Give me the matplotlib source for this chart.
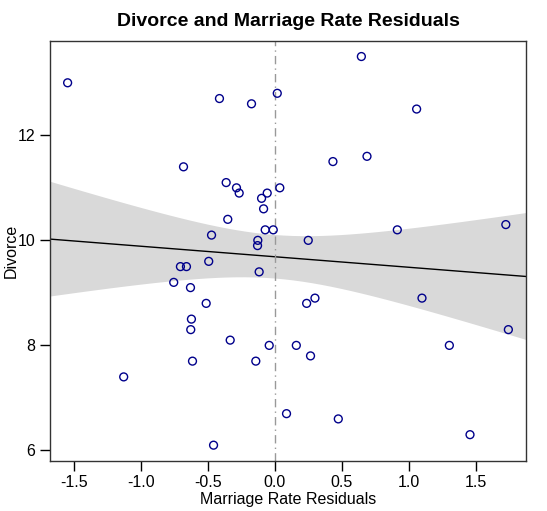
import matplotlib
matplotlib.use('Agg')
import matplotlib.pyplot as plt
import numpy as np

plt.rcParams['font.family'] = ['Liberation Sans', 'DejaVu Sans']
plt.rcParams['axes.unicode_minus'] = False

# marriage rate residuals (x) and divorce rate (y)
marriage_resid = [
    -1.545, -0.413, -0.174, 0.018, -0.681, -0.363, -0.286, -0.266, -0.057, -0.099,
    0.037, -0.084, -0.351, -0.072, -0.012, -0.472, -0.127, -0.129, -0.493, -0.704,
    -0.659, -0.117, -0.754, -0.629, -0.512, -0.622, -0.627, -0.333, -0.042, -0.614,
    -0.142, -1.127, 0.087, -0.457, 0.645, 1.057, 0.433, 0.687, 0.249, 0.913,
    1.722, 0.237, 0.299, 1.097, 1.741, 0.160, 1.301, 0.266, 0.473, 1.455,
]
divorce = [
    13.0, 12.7, 12.6, 12.8, 11.4, 11.1, 11.0, 10.9, 10.9, 10.8,
    11.0, 10.6, 10.4, 10.2, 10.2, 10.1, 10.0, 9.9, 9.6, 9.5,
    9.5, 9.4, 9.2, 9.1, 8.8, 8.5, 8.3, 8.1, 8.0, 7.7,
    7.7, 7.4, 6.7, 6.1, 13.5, 12.5, 11.5, 11.6, 10.0, 10.2,
    10.3, 8.8, 8.9, 8.9, 8.3, 8.0, 8.0, 7.8, 6.6, 6.3,
]
x_ticks = [-1.5, -1.0, -0.5, 0.0, 0.5, 1.0, 1.5]
y_ticks = [6, 8, 10, 12]

x = np.array(marriage_resid)
y = np.array(divorce)

# linear fit with 89% interval of the mean
slope, intercept = np.polyfit(x, y, 1)
resid = y - (intercept + slope * x)
sigma = np.sqrt(np.sum(resid ** 2) / (len(x) - 2))
sxx = np.sum((x - x.mean()) ** 2)
x_seq = np.linspace(-2.0, 2.2, 60)
mu = intercept + slope * x_seq
se = sigma * np.sqrt(1 / len(x) + (x_seq - x.mean()) ** 2 / sxx)
z = 1.598

fig = plt.figure(figsize=(5.47, 5.11), dpi=100)
ax = fig.add_axes([0.0914, 0.0984, 0.8702, 0.8214])

ax.fill_between(x_seq, mu - z * se, mu + z * se, color='#d9d9d9', linewidth=0, zorder=1)
ax.plot(x_seq, mu, color='black', linewidth=1, zorder=2)
ax.axvline(0, color='#999999', linestyle=(0, (6, 3, 1, 3)), linewidth=1, zorder=2)
ax.scatter(x, y, s=32, facecolors='none', edgecolors='#00008b', linewidths=1, zorder=3)

xr = x.max() - x.min()
yr = y.max() - y.min()
ax.set_xlim(x.min() - 0.04 * xr, x.max() + 0.04 * xr)
ax.set_ylim(y.min() - 0.04 * yr, y.max() + 0.04 * yr)
ax.set_xticks(x_ticks)
ax.set_xticklabels([f'{t:.1f}' for t in x_ticks])
ax.set_yticks(y_ticks)
ax.tick_params(direction='out', length=7, width=1, labelsize=11.5, colors='black')

for s in ax.spines.values():
    s.set_linewidth(1)
    s.set_color('#333333')

ax.set_xlabel('Marriage Rate Residuals', fontsize=11.5, labelpad=1)
ax.set_ylabel('Divorce', fontsize=11.5)
ax.yaxis.set_label_coords(-0.066, 0.5)
ax.set_title('Divorce and Marriage Rate Residuals', fontsize=14, fontweight='bold', pad=11)

fig.savefig('out.png', dpi=100)
